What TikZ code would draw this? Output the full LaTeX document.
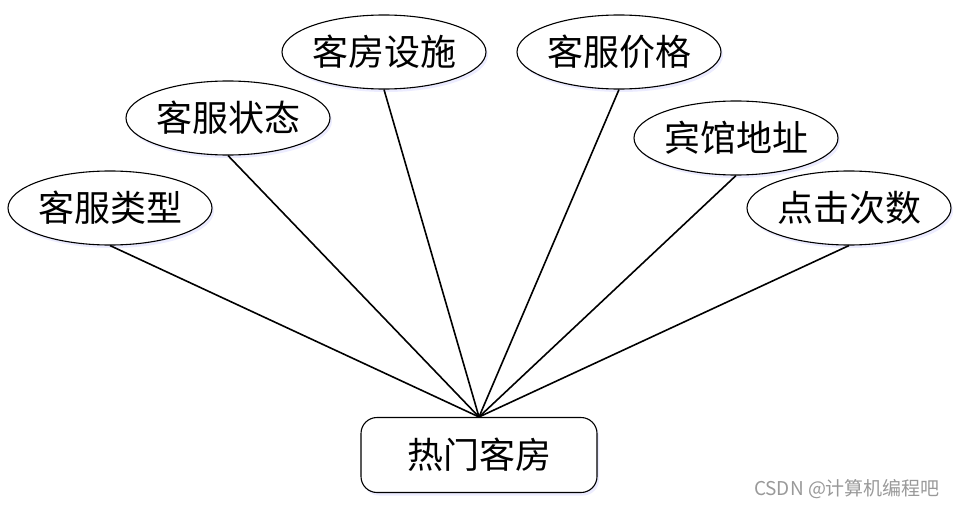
\documentclass[tikz,border=0pt]{standalone}
\usepackage{fontspec}
\setmainfont{Noto Sans CJK SC}
\newfontfamily\wmfont{Noto Sans CJK SC}
\usetikzlibrary{shapes.geometric, shadows}

\begin{document}
\begin{tikzpicture}[
    x=1pt, y=-1pt,
    attr/.style={ellipse, draw=black, line width=1.1pt, fill=white, minimum width=204pt, minimum height=74pt, inner sep=0pt,
        font=\fontsize{36}{40}\selectfont, drop shadow={shadow xshift=2pt, shadow yshift=-3pt, fill=blue!25, opacity=0.3}},
    entity/.style={rectangle, rounded corners=16pt, draw=black, line width=1.1pt, fill=white, minimum width=236pt, minimum height=75pt,
        font=\fontsize{36}{40}\selectfont, drop shadow={shadow xshift=2pt, shadow yshift=-3pt, fill=blue!25, opacity=0.3}},
    link/.style={line width=1.6pt}
]
\useasboundingbox (0,0) rectangle (958,508);

% Nodes
\node (hot) [entity] at (479,455) {热门客房};

\node (type) [attr] at (110,208) {客服类型};
\node (state) [attr] at (228,118) {客服状态};
\node (facility) [attr] at (384,52) {客房设施};
\node (price) [attr] at (619,52) {客服价格};
\node (address) [attr] at (736,138) {宾馆地址};
\node (clicks) [attr] at (849,208) {点击次数};

% Lines
\draw [link] (type.south) -- (hot.north);
\draw [link] (state.south) -- (hot.north);
\draw [link] (facility.south) -- (hot.north);
\draw [link] (price.south) -- (hot.north);
\draw [link] (address.south) -- (hot.north);
\draw [link] (clicks.south) -- (hot.north);

% Watermark
\node (mark) [text=gray!80, font=\wmfont\fontsize{19}{22}\selectfont] at (847,489) {CSDN @计算机编程吧};

\end{tikzpicture}
\end{document}
